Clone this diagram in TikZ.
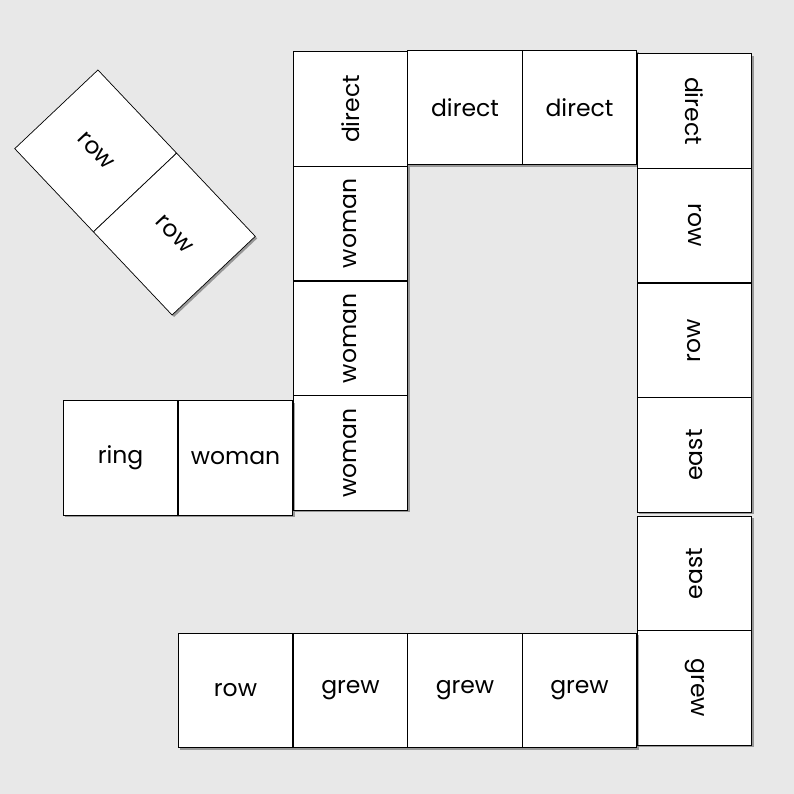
\documentclass[tikz,border=0pt]{standalone}
\usepackage{fontspec}
\setmainfont{Poppins}
\usetikzlibrary{shadows}
\begin{document}
\begin{tikzpicture}[x=1pt,y=1pt,
  cellbox/.style={draw=black,line width=0.7pt,fill=white,minimum width=114.5pt,minimum height=114.5pt,inner sep=0pt,font=\fontsize{23.5}{26}\selectfont,
    drop shadow={shadow xshift=2pt,shadow yshift=-2pt,opacity=0.35,fill=black}}]
\useasboundingbox (0,0) rectangle (794,-794);
\fill[gray!18] (0,0) rectangle (794,-794);
\newcommand\cellat[5]{\node[cellbox,rotate=#3] (#5) at (#1,-#2) {#4};}
% left column
\cellat{350.5}{109}{90}{direct}{c1}
\cellat{350.5}{223.5}{90}{woman}{c2}
\cellat{350.5}{338.5}{90}{woman}{c3}
\cellat{350.5}{453}{90}{woman}{c4}
% top
\cellat{465}{107.5}{0}{direct}{c5}
\cellat{579.5}{107.5}{0}{direct}{c6}
% right column
\cellat{694.5}{111}{-90}{direct}{c7}
\cellat{694.5}{225.5}{-90}{row}{c8}
\cellat{694.5}{340.5}{90}{row}{c9}
\cellat{694.5}{455}{90}{east}{c10}
\cellat{694.5}{573.5}{90}{east}{c11}
\cellat{694.5}{688}{-90}{grew}{c12}
% bottom
\cellat{235.5}{690.5}{0}{row}{c13}
\cellat{350.5}{690.5}{0}{grew}{c14}
\cellat{465}{690.5}{0}{grew}{c15}
\cellat{579.5}{690.5}{0}{grew}{c16}
% ring woman
\cellat{120.5}{458}{0}{ring}{c17}
\cellat{235.5}{458}{0}{woman}{c18}
% rotated domino
\begin{scope}[shift={(135,-192.5)},rotate=-46.6]
\node[cellbox,rotate=-46.6] (r1) at (-57.25,0) {row};
\node[cellbox,rotate=-46.6] (r2) at (57.25,0) {row};
\end{scope}
\end{tikzpicture}
\end{document}
